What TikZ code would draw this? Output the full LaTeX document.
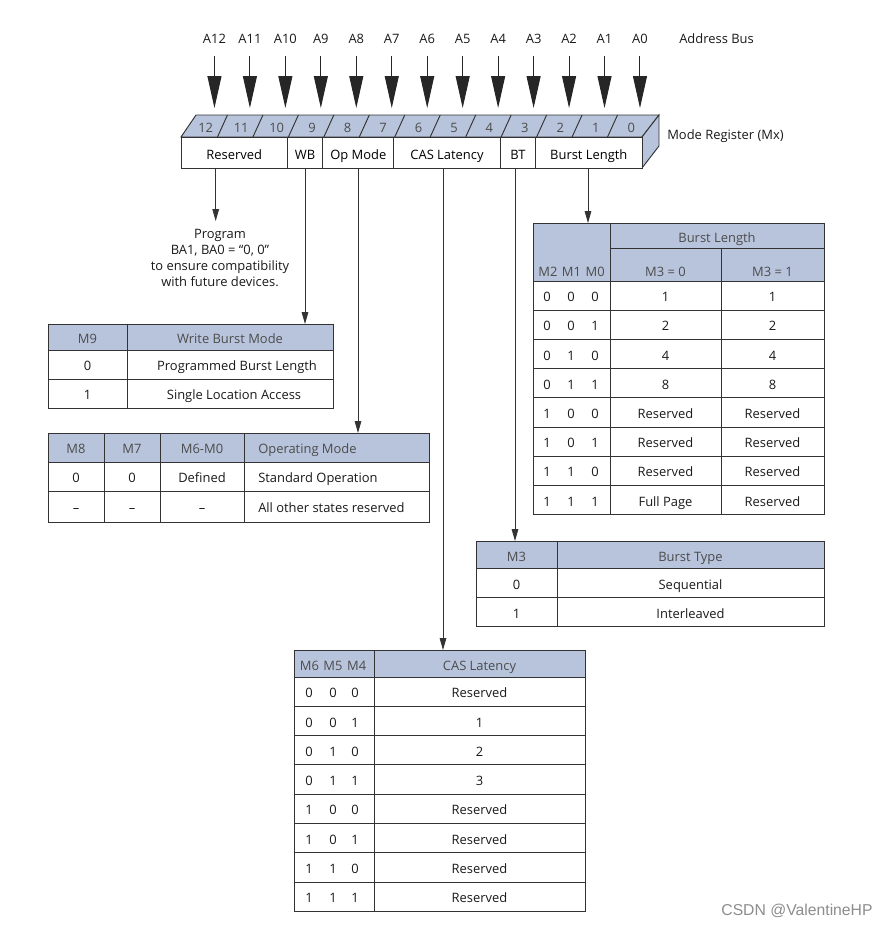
\documentclass[tikz,border=0pt]{standalone}
\usepackage{fontspec}
\setmainfont{Open Sans}
\newfontfamily\wmfont{Liberation Sans}
\usetikzlibrary{arrows.meta,calc}

\definecolor{hdrblue}{HTML}{B8C4DC}
\definecolor{linegray}{HTML}{333333}

\tikzset{
  busarrow/.style={draw=black!85, line width=0.75pt, shorten <=7.5pt,
    -{Triangle[width=10.5pt,length=24pt]}},
  tabarrow/.style={draw=linegray, line width=0.6pt,
    -{Triangle[width=5pt,length=9pt]}},
  grid/.style={draw=linegray, line width=0.7pt},
  field/.style={grid, fill=white, inner sep=0pt, minimum height=23.25pt,
    text height=10pt, text depth=0pt},
  cell/.style={inner sep=0pt, text=black!90, text height=7.2pt, text depth=2pt, yshift=-2pt},
  hcell/.style={cell, text=black!70},
  note/.style={inner sep=0pt, text=black!90, align=center},
}

\begin{document}
\begin{tikzpicture}[x=0.75pt, y=-0.75pt, font=\fontsize{9.7}{12}\selectfont]
    \useasboundingbox (0,0) rectangle (885,926);
    % Parameters
    \def\xl{181}
    \def\cw{35.46}

    % Address bus arrows
    \foreach \b in {12,...,0} {
      \pgfmathsetmacro\xa{\xl+\cw*(13-\b)-2}
      \node[cell] (a\b) at (\xa,37) {A\b};
      \coordinate (t\b) at (\xa,108);
      \draw[busarrow] (a\b.south) -- (t\b);
    }
    \node[cell, anchor=west] (abus) at (679,37) {Address Bus};

    % Register top and side faces
    \draw[grid, fill=hdrblue] (\xl,137) -- (196,115) -- (659,115) -- (642,137) -- cycle;
    \draw[grid, fill=hdrblue] (642,137) -- (659,115) -- (659,146) -- (642,168) -- cycle;
    \foreach \k in {1,...,12}
      \draw[grid] ({\xl+\cw*\k+1},137) -- ({\xl+\cw*\k+11},115);
    \foreach \b in {12,...,0} {
      \pgfmathsetmacro\xn{\xl+\cw*(12.5-\b)+7}
      \node[hcell] (n\b) at (\xn,126.5) {\b};
    }
    \node[cell, anchor=west] (mreg) at (667,133) {Mode Register (Mx)};

    % Register fields
    \node[field, minimum width=79.8pt] (res) at (234.2,152.5) {Reserved};
    \node[field, minimum width=26.6pt] (wb) at (305.1,152.5) {WB};
    \node[field, minimum width=53.2pt] (opm) at (358.3,152.5) {Op Mode};
    \node[field, minimum width=79.8pt] (cas) at (447,152.5) {CAS Latency};
    \node[field, minimum width=26.6pt] (bt) at (517.9,152.5) {BT};
    \node[field, minimum width=79.8pt] (blen) at (588.8,152.5) {Burst Length};

    % Arrow targets
    \coordinate (progTip) at (215.7,221);
    \coordinate (wbTop) at (305,324);
    \coordinate (opTop) at (358,433);
    \coordinate (casTop) at (443,650);
    \coordinate (btTop) at (515,541);
    \coordinate (blTop) at (588,223);

    \draw[tabarrow] (res.south -| progTip) -- (progTip);
    \draw[tabarrow] (wb.south -| wbTop) -- (wbTop);
    \draw[tabarrow] (opm.south -| opTop) -- (opTop);
    \draw[tabarrow] (cas.south -| casTop) -- (casTop);
    \draw[tabarrow] (bt.south -| btTop) -- (btTop);
    \draw[tabarrow] (blen.south -| blTop) -- (blTop);

    \node[note] (prog) at (220,258)
      {Program\\BA1, BA0 = “0, 0”\\to ensure compatibility\\with future devices.};

    % Write burst mode table
    \fill[hdrblue] (48,324) rectangle (333,350);
    \draw[grid] (48,324) rectangle (333,408);
    \draw[grid] (48,350) -- (333,350);
    \draw[grid] (48,379) -- (333,379);
    \draw[grid] (127,324) -- (127,408);
    \node[hcell] (wbh1) at (87.5,337) {M9};
    \node[hcell] (wbh2) at (230,337) {Write Burst Mode};
    \node[cell] (wb1a) at (87.5,364.5) {0};
    \node[cell] (wb1b) at (237,364.5) {Programmed Burst Length};
    \node[cell] (wb2a) at (87.5,393.5) {1};
    \node[cell] (wb2b) at (234,393.5) {Single Location Access};

    % Operating mode table
    \fill[hdrblue] (48,433) rectangle (429,462);
    \draw[grid] (48,433) rectangle (429,522);
    \draw[grid] (48,462) -- (429,462);
    \draw[grid] (48,491) -- (429,491);
    \foreach \xc in {104,160,244}
      \draw[grid] (\xc,433) -- (\xc,522);
    \node[hcell] (oph1) at (76,447.5) {M8};
    \node[hcell] (oph2) at (132,447.5) {M7};
    \node[hcell] (oph3) at (202,447.5) {M6-M0};
    \node[hcell, anchor=west] (oph4) at (258,447.5) {Operating Mode};
    \node[cell] (op1a) at (76,476.5) {0};
    \node[cell] (op1b) at (132,476.5) {0};
    \node[cell] (op1c) at (202,476.5) {Defined};
    \node[cell, anchor=west] (op1d) at (258,476.5) {Standard Operation};
    \node[cell] (op2a) at (76,506.5) {–};
    \node[cell] (op2b) at (132,506.5) {–};
    \node[cell] (op2c) at (202,506.5) {–};
    \node[cell, anchor=west] (op2d) at (258,506.5) {All other states reserved};

    % Burst length table
    \fill[hdrblue] (533,223) rectangle (824,281);
    \draw[grid] (533,223) rectangle (824,514.6);
    \draw[grid] (610,248) -- (824,248);
    \draw[grid] (610,223) -- (610,514.6);
    \draw[grid] (721,248) -- (721,514.6);
    \draw[grid] (533,281) -- (824,281);
    \foreach \i in {1,...,7}
      \draw[grid] (533,{281+29.2*\i}) -- (824,{281+29.2*\i});
    \node[hcell] (blh1) at (717,236) {Burst Length};
    \node[hcell] (blh2) at (571.5,270) {M2\hspace{0.35em}M1\hspace{0.35em}M0};
    \node[hcell] (blh3) at (665.5,270) {M3 = 0};
    \node[hcell] (blh4) at (772.5,270) {M3 = 1};
    \foreach \p/\q/\r/\u/\v [count=\i] in {0/0/0/1/1, 0/0/1/2/2, 0/1/0/4/4, 0/1/1/8/8,
        1/0/0/Reserved/Reserved, 1/0/1/Reserved/Reserved,
        1/1/0/Reserved/Reserved, 1/1/1/Full Page/Reserved} {
      \pgfmathsetmacro\yc{281+29.2*(\i-0.5)}
      \node[cell] (bl\i a) at (547,\yc) {\p};
      \node[cell] (bl\i b) at (571,\yc) {\q};
      \node[cell] (bl\i c) at (595,\yc) {\r};
      \node[cell] (bl\i d) at (665.5,\yc) {\u};
      \node[cell] (bl\i e) at (772.5,\yc) {\v};
    }

    % Burst type table
    \fill[hdrblue] (476,541) rectangle (824,568);
    \draw[grid] (476,541) rectangle (824,626);
    \draw[grid] (476,568) -- (824,568);
    \draw[grid] (476,597) -- (824,597);
    \draw[grid] (557,541) -- (557,626);
    \node[hcell] (bth1) at (516.5,555) {M3};
    \node[hcell] (bth2) at (690.5,555) {Burst Type};
    \node[cell] (bt1a) at (516.5,583) {0};
    \node[cell] (bt1b) at (690.5,583) {Sequential};
    \node[cell] (bt2a) at (516.5,612) {1};
    \node[cell] (bt2b) at (690.5,612) {Interleaved};

    % CAS latency table
    \fill[hdrblue] (294,650) rectangle (585,677);
    \draw[grid] (294,650) rectangle (585,911.4);
    \draw[grid] (294,677) -- (585,677);
    \draw[grid] (374,650) -- (374,911.4);
    \foreach \i in {1,...,7}
      \draw[grid] (294,{677+29.3*\i}) -- (585,{677+29.3*\i});
    \node[hcell] (cah1) at (333,664) {M6\hspace{0.35em}M5\hspace{0.35em}M4};
    \node[hcell] (cah2) at (479.5,664) {CAS Latency};
    \foreach \p/\q/\r/\u [count=\i] in {0/0/0/Reserved, 0/0/1/1, 0/1/0/2, 0/1/1/3,
        1/0/0/Reserved, 1/0/1/Reserved, 1/1/0/Reserved, 1/1/1/Reserved} {
      \pgfmathsetmacro\yc{677+29.3*(\i-0.5)}
      \node[cell] (ca\i a) at (309,\yc) {\p};
      \node[cell] (ca\i b) at (333,\yc) {\q};
      \node[cell] (ca\i c) at (355,\yc) {\r};
      \node[cell] (ca\i d) at (479.5,\yc) {\u};
    }

    % Watermark
    \node[inner sep=0pt, text=black!45, font=\wmfont\fontsize{11.8}{13}\selectfont]
      (wm) at (797,911) {CSDN @ValentineHP};
\end{tikzpicture}
\end{document}
